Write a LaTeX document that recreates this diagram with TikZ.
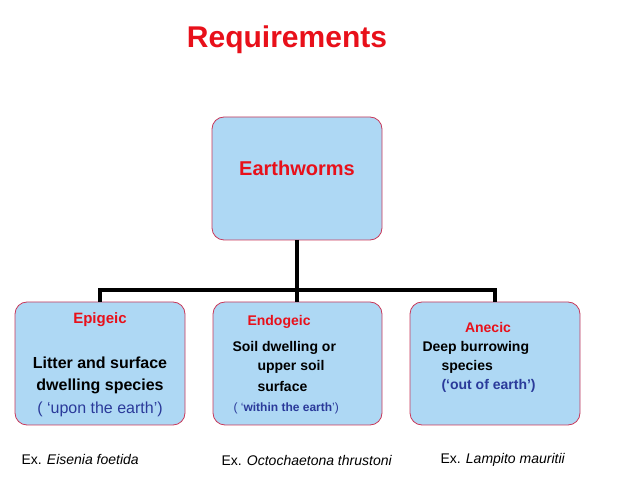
\documentclass[tikz,border=0pt]{standalone}
\usepackage{fontspec}
\setmainfont{Liberation Sans}
\definecolor{boxfill}{HTML}{AED8F4}
\definecolor{boxline}{HTML}{C8385A}
\definecolor{myred}{HTML}{E8101A}
\definecolor{myblue}{HTML}{2A3A9A}
\begin{document}
\begin{tikzpicture}[x=1pt,y=-1pt,
  box/.style={draw=boxline,fill=boxfill,rounded corners=12pt,line width=0.8pt},
  conn/.style={line width=3.5pt,black},
  hd/.style={font=\bfseries\fontsize{15}{18}\selectfont,text=myred},
  bt/.style={font=\bfseries\fontsize{15}{19}\selectfont,anchor=west},
  ex/.style={font=\fontsize{14}{17}\selectfont,anchor=west}]
\useasboundingbox (0,0) rectangle (638,478);
\node[font=\bfseries\fontsize{30}{34}\selectfont,text=myred] (title) at (287,40) {Requirements};
\draw[box] (212,117) rectangle (382,240);
\node (top) at (297,178.5) {};
\node[font=\bfseries\fontsize{20}{24}\selectfont,text=myred] (toptxt) at (297,168) {Earthworms};
\draw[box] (15,302) rectangle (185,425);
\draw[box] (213,302) rectangle (382,425);
\draw[box] (410,302) rectangle (580,425);
\coordinate (a) at (297,240);
\coordinate (b) at (297,290);
\coordinate (l) at (100,290);
\coordinate (r) at (495,290);
\coordinate (l2) at (100,302);
\coordinate (r2) at (495,302);
\draw[conn] (a) -- (b);
\draw[conn,line cap=rect] (l) -- (r);
\draw[conn] (l) -- (l2);
\draw[conn] (b) -- (297,302);
\draw[conn] (r) -- (r2);
% left
\node[hd] (epi) at (100,320) {Epigeic};
\node[font=\bfseries\fontsize{16}{22}\selectfont,align=center] (epit) at (100,375) {Litter and surface\\dwelling species};
\node[font=\fontsize{16}{20}\selectfont,text=myblue] (epib) at (100,409) {( ‘upon the earth’)};
% middle
\node[hd,anchor=west,font=\bfseries\fontsize{14}{17}\selectfont] (endo) at (244,322) {Endogeic};
\node[bt,font=\bfseries\fontsize{14}{17}\selectfont] (en1) at (229,348) {Soil dwelling or};
\node[bt,font=\bfseries\fontsize{14}{17}\selectfont] (en2) at (254,367) {upper soil};
\node[bt,font=\bfseries\fontsize{14}{17}\selectfont] (en3) at (254,386) {surface};
\node[anchor=west,font=\fontsize{12}{14}\selectfont,text=myblue] (en4) at (230,408) {( ‘\textbf{within the earth}’)};
% right
\node[hd,font=\bfseries\fontsize{14}{17}\selectfont] (ane) at (488,327) {Anecic};
\node[bt,font=\bfseries\fontsize{14}{17}\selectfont] (an1) at (419,348) {Deep burrowing};
\node[bt,font=\bfseries\fontsize{14}{17}\selectfont] (an2) at (438,367) {species};
\node[bt,font=\bfseries\fontsize{14}{17}\selectfont,text=myblue] (an3) at (438,386) {(‘out of earth’)};
% bottom
\node[ex] (ex1) at (18,460) {Ex. \textit{Eisenia foetida}};
\node[ex] (ex2) at (218,460) {Ex. \textit{Octochaetona thrustoni}};
\node[ex] (ex3) at (437,460) {Ex. \textit{Lampito mauritii}};
\end{tikzpicture}
\end{document}
